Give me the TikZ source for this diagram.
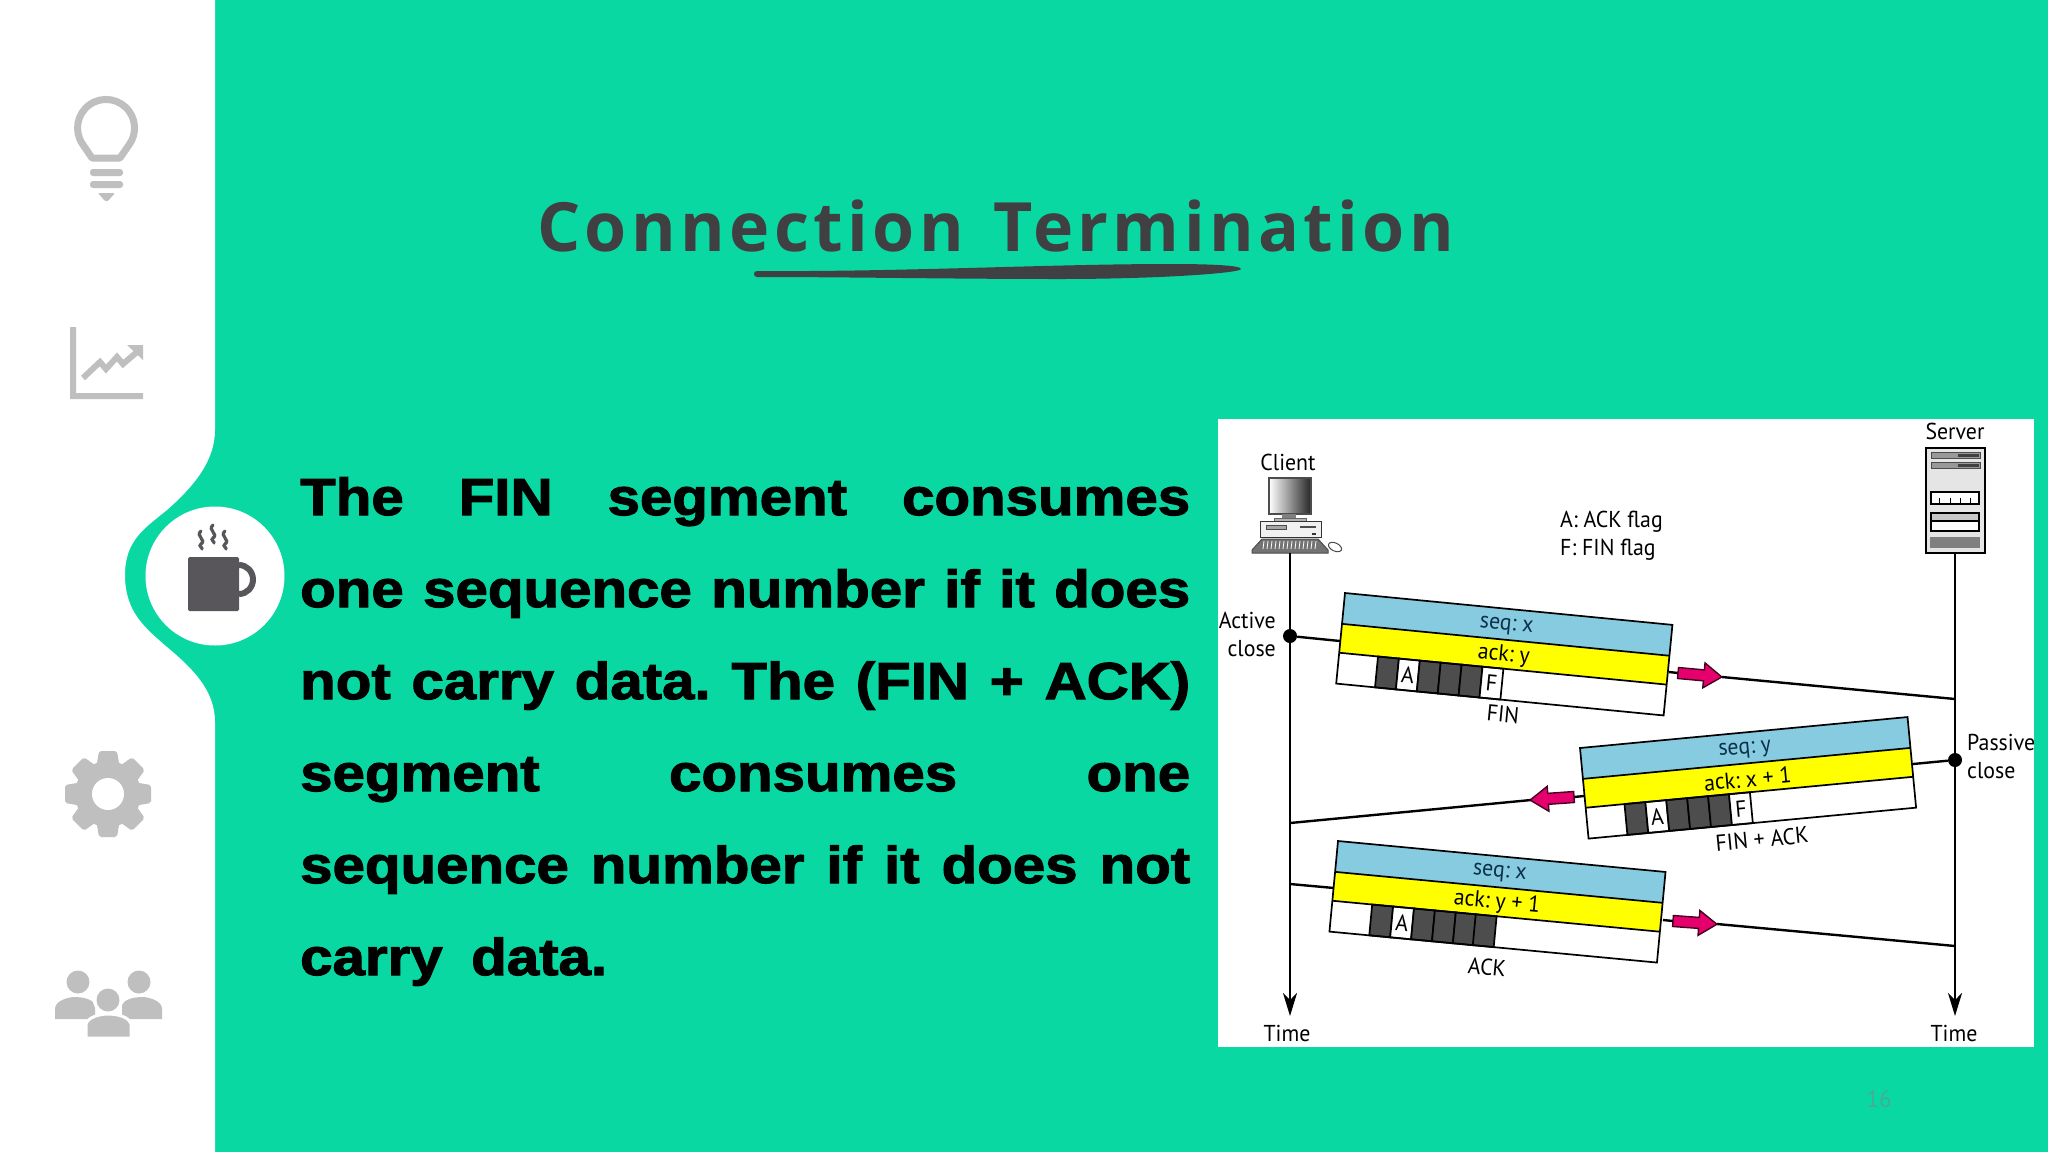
\documentclass[tikz,border=0pt]{standalone}
\usepackage{fontspec}
\usetikzlibrary{arrows.meta,calc}
\setmainfont{Liberation Sans}[BoldFeatures={FakeBold=2.2,FakeStretch=1.12}]
\newfontfamily\titlef{Open Sans}[LetterSpace=6.5]
\newfontfamily\figf{PT Sans}[FakeStretch=.95]
\definecolor{bggreen}{RGB}{9,216,163}
\definecolor{icongray}{RGB}{191,191,191}
\definecolor{mugdark}{RGB}{88,86,90}
\definecolor{inkdark}{RGB}{64,64,66}
\definecolor{bandblue}{RGB}{135,203,224}
\definecolor{bandyellow}{RGB}{255,255,0}
\definecolor{cellgray}{RGB}{77,77,77}
\definecolor{pinkarrow}{RGB}{230,0,110}
\definecolor{pagenum}{RGB}{70,172,150}
\definecolor{seqink}{RGB}{12,48,74}
\tikzset{
  figtext/.style={font=\figf\fontsize{23}{27}\selectfont,text=black,inner sep=0pt},
  bodyline/.style={font=\bfseries\fontsize{52}{60}\selectfont,text=black,inner sep=0pt,anchor=base west},
  wire/.style={line width=2.4pt,draw=black},
  timeline/.style={line width=2.4pt,draw=black,-{Stealth[length=23pt,width=14pt,inset=7pt]}},
  segline/.style={line width=1.7pt,draw=black},
  dotnode/.style={circle,fill=black,inner sep=0pt,minimum size=14pt},
}
% #1 name, #2 top-left, #3 angle, #4 seq, #5 ack, #6 cells
\newcommand{\tcpseg}[6]{%
  \begin{scope}[shift={#2},rotate=#3]
    \fill[white] (0,0) rectangle (329,91);
    \fill[bandblue] (0,0) rectangle (329,31);
    \fill[bandyellow] (0,31) rectangle (329,60);
    \foreach \cx/\clab in {#6}{%
      \ifx\clab\empty
        \fill[cellgray] (\cx,60) rectangle +(21,31);
        \draw[segline] (\cx,60) rectangle +(21,31);
      \else
        \draw[segline,fill=white] (\cx,60) rectangle +(21,31);
        \node[figtext,transform shape] at ($(\cx,75.5)+(10.5,0)$) {\clab};
      \fi
    }
    \draw[segline] (0,0) rectangle (329,91);
    \draw[segline] (0,31) -- (329,31);
    \draw[segline] (0,60) -- (329,60);
    \node[figtext,transform shape,text=seqink] (#1seq) at (164,17.5) {#4};
    \node[figtext,transform shape] (#1ack) at (164,46.5) {#5};
  \end{scope}}
% #1 tail, #2 angle
\newcommand{\pinkhead}[2]{%
  \begin{scope}[shift={#1},rotate=#2]
    \draw[line width=1.4pt,draw=black!70!pinkarrow,fill=pinkarrow,line join=miter]
      (0,-5.5) -- (26,-5.5) -- (26,-12.5) -- (44,0) -- (26,12.5) -- (26,5.5) -- (0,5.5) -- cycle;
  \end{scope}}
\begin{document}
\frenchspacing
\begin{tikzpicture}[x=1pt,y=-1pt]
\useasboundingbox (0,0) rectangle (2048,1152);
\fill[bggreen] (0,0) rectangle (2048,1152);
% sidebar
\fill[white] (0,0) -- (215,0) -- (215,430)
  .. controls (215,462) and (192,488) .. (167,510)
  .. controls (145,528) and (125,540) .. (125,575)
  .. controls (125,612) and (145,628) .. (167,647)
  .. controls (192,668) and (215,690) .. (215,722)
  -- (215,1152) -- (0,1152) -- cycle;
\fill[white] (215,576) circle (69.5);
% mug
\fill[mugdark,rounded corners=1.5pt] (188,557) rectangle (239,611);
\draw[mugdark,line width=6pt] (239,565) arc (-90:90:14 and 14.5);
\foreach \sx/\sy in {201/531,213/525,225/531}{
  \draw[mugdark,line width=3.2pt,line cap=round] (\sx,\sy)
    .. controls (\sx-6,\sy+5) and (\sx+6,\sy+9) .. (\sx,\sy+13)
    .. controls (\sx-3,\sy+15) and (\sx+2,\sy+17) .. (\sx+1,\sy+18);
}
% bulb
\draw[icongray,line width=7pt,line join=round] (92,158)
  -- (82.7,144.3) arc (145:395:28.5) -- (120,158) -- cycle;
\fill[icongray,rounded corners=3pt] (90,169) rectangle (123,176);
\fill[icongray,rounded corners=3pt] (90,181) rectangle (123,188);
\fill[icongray,rounded corners=1pt] (98,193) -- (115,193) -- (108,201) -- (105,201) -- cycle;
% chart
\fill[icongray] (70,327) -- (76,327) -- (76,393) -- (143,393) -- (143,399) -- (70,399) -- cycle;
\draw[icongray,line width=6pt,line join=miter] (83,378) -- (100,362) -- (106,369) -- (117,357) -- (123,364) -- (137,352);
\fill[icongray] (127,345) -- (143,345) -- (143,360) -- cycle;
% gear
\fill[icongray] (108,794) circle (33);
\foreach \ga in {0,45,...,315}{
  \fill[icongray,rotate around={\ga:(108,794)},rounded corners=2pt] (99,751) -- (117,751) -- (121,775) -- (95,775) -- cycle;
}
\fill[white] (108,794) circle (16);
% people
\fill[icongray] (78,982) circle (11.5);
\fill[icongray] (139,982) circle (11.5);
\fill[icongray] (55,1019) -- (55,1008) .. controls (56,1000) and (70,997) .. (74,997) .. controls (85,997) and (93,1000) .. (95,1005) -- (95,1019) -- cycle;
\fill[icongray] (162,1019) -- (162,1008) .. controls (161,1000) and (147,997) .. (143,997) .. controls (132,997) and (124,1000) .. (122,1005) -- (122,1019) -- cycle;
\fill[white] (108,1000) circle (15);
\draw[white,line width=3pt,fill=icongray] (86,1038) -- (86,1024) .. controls (88,1017) and (100,1014) .. (108,1014) .. controls (118,1014) and (129,1017) .. (131,1024) -- (131,1038) -- cycle;
\fill[icongray] (108,1000) circle (11.5);
% title
\node[font=\titlef\bfseries\fontsize{68}{80}\selectfont,text=inkdark,inner sep=0pt,anchor=base west] (title) at (537,251) {Connection\hspace{8pt} Termination};
\fill[inkdark] (757,271) .. controls (900,272) and (1050,264) .. (1170,264)
  .. controls (1205,264) and (1241,265) .. (1241,269)
  .. controls (1241,273) and (1160,279) .. (1060,279)
  .. controls (950,279) and (850,277) .. (757,277)
  .. controls (753,277) and (753,271) .. (757,271) -- cycle;
% body
\node[bodyline] (line1) at (300,515) {\makebox[890pt][s]{The FIN segment consumes}};
\node[bodyline] (line2) at (300,607) {\makebox[890pt][s]{one sequence number if it does}};
\node[bodyline] (line3) at (300,699) {\makebox[890pt][s]{not carry data. The (FIN + ACK)}};
\node[bodyline] (line4) at (300,791) {\makebox[890pt][s]{segment consumes one}};
\node[bodyline] (line5) at (300,883) {\makebox[890pt][s]{sequence number if it does not}};
\node[bodyline] (line6) at (300,975) {\makebox[307pt][s]{carry data.}};
% figure
\fill[white] (1218,418.5) rectangle (2034,1047);
\node[figtext] (client) at (1288,462) {Client};
\node[figtext] (server) at (1955,431) {Server};
\node[figtext,anchor=base west] (flaga) at (1560,527) {A: ACK flag};
\node[figtext,anchor=base west] (flagf) at (1560,555) {F: FIN flag};
\node[figtext,anchor=base east] (active) at (1276,628) {Active};
\node[figtext,anchor=base east] (aclose) at (1276,656) {close};
\node[figtext,anchor=base west] (passive) at (1967,750) {Passive};
\node[figtext,anchor=base west] (pclose) at (1967,778) {close};
\node[figtext] (timea) at (1287,1033) {Time};
\node[figtext] (timeb) at (1954,1033) {Time};
% computer
\shade[left color=white,middle color=black!25,right color=black!85,draw=black!70,line width=2pt] (1269,478) rectangle (1311,514);
\fill[black!50] (1282,514) rectangle (1296,519);
\draw[black!60,fill=black!30,line width=1pt] (1274,518) rectangle (1306,521);
\draw[black!80,fill=black!6,line width=1pt] (1260,521) rectangle (1321,537);
\draw[black!70,fill=black!35,line width=.8pt] (1266,525) rectangle (1286,529);
\fill[black!70] (1300,526) rectangle (1316,528);
\fill[black!80] (1312,533) rectangle (1316,535);
\draw[black!70,fill=black!55,line width=1pt] (1262,539) -- (1318,539) -- (1328,550) -- (1328,553) -- (1252,553) -- (1252,550) -- cycle;
\foreach \kx in {1264,1268,...,1316}{\draw[white,line width=.8pt] (\kx,541) -- (\kx-1,549);}
\draw[black!70,fill=white,line width=1pt,rotate around={-25:(1335,547)}] (1335,547) ellipse (7 and 4);
% server
\draw[black,fill=black!10,line width=2pt] (1926,448) rectangle (1985,553);
\foreach \dy in {452,462}{
  \draw[black!70,fill=black!40,line width=1pt] (1931,\dy) rectangle (1980,\dy+6.5);
  \fill[black!75] (1958,\dy+2) rectangle (1979,\dy+5);
}
\draw[black,fill=white,line width=1.2pt] (1931,492) rectangle (1979,504);
\foreach \tx in {1939,1950,1960,1970}{\draw[black,line width=.8pt] (\tx,498) -- (\tx,504);}
\draw[black,fill=black!22,line width=1.2pt] (1931,513) rectangle (1979,521);
\draw[black,fill=white,line width=1.2pt] (1931,521) rectangle (1979,531);
\fill[black!50] (1930,537) rectangle (1980,548);
% anchors of the time lines
\coordinate (ctop) at (1290,553);
\coordinate (cend) at (1290,1016);
\coordinate (stop) at (1955,553);
\coordinate (send) at (1955,1016);
\draw[timeline] (ctop) -- (cend);
\draw[timeline] (stop) -- (send);
\node[dotnode] (adot) at (1290,636) {};
\node[dotnode] (pdot) at (1955,760) {};
% connector ends
\coordinate (s1l) at (1340,641);
\coordinate (s1r) at (1669,672);
\coordinate (a1t) at (1678,673);
\coordinate (a1h) at (1722,677);
\coordinate (s1e) at (1955,699);
\coordinate (s2r) at (1913,764);
\coordinate (s2l) at (1584,796);
\coordinate (a2t) at (1574,797);
\coordinate (a2h) at (1531,800);
\coordinate (s2e) at (1290,823);
\coordinate (s3b) at (1290,884);
\coordinate (s3l) at (1334,888);
\coordinate (s3r) at (1663,920);
\coordinate (a3t) at (1673,921);
\coordinate (a3h) at (1717,924);
\coordinate (s3e) at (1955,946);
\draw[wire] (adot) -- (s1l);
\draw[wire] (s1r) -- (a1t);
\draw[wire] (a1h) -- (s1e);
\draw[wire] (pdot) -- (s2r);
\draw[wire] (s2l) -- (a2t);
\draw[wire] (a2h) -- (s2e);
\draw[wire] (s3b) -- (s3l);
\draw[wire] (s3r) -- (a3t);
\draw[wire] (a3h) -- (s3e);
% segments
\tcpseg{one}{(1345,593)}{-5.56}{seq: x}{ack: y}{39/,60/A,81/,102/,123/,144/F}
\tcpseg{two}{(1580,748)}{5.4}{seq: y}{ack: x + 1}{39/,60/A,81/,102/,123/,144/F}
\tcpseg{three}{(1338,841)}{-5.4}{seq: x}{ack: y + 1}{40/,61/A,82/,103/,124/,144/}
\pinkhead{(1678,673)}{-5.2}
\pinkhead{(1574,797)}{184}
\pinkhead{(1673,921)}{-4.2}
\node[figtext,rotate=-5.5] (finl) at (1503,714) {FIN};
\node[figtext,rotate=5.5] (finack) at (1762,839) {FIN + ACK};
\node[figtext,rotate=-5.5] (ackl) at (1487,967) {ACK};
\node[font=\figf\fontsize{24}{28}\selectfont,text=pagenum,inner sep=0pt] (pg) at (1879,1099) {16};
\end{tikzpicture}
\end{document}
